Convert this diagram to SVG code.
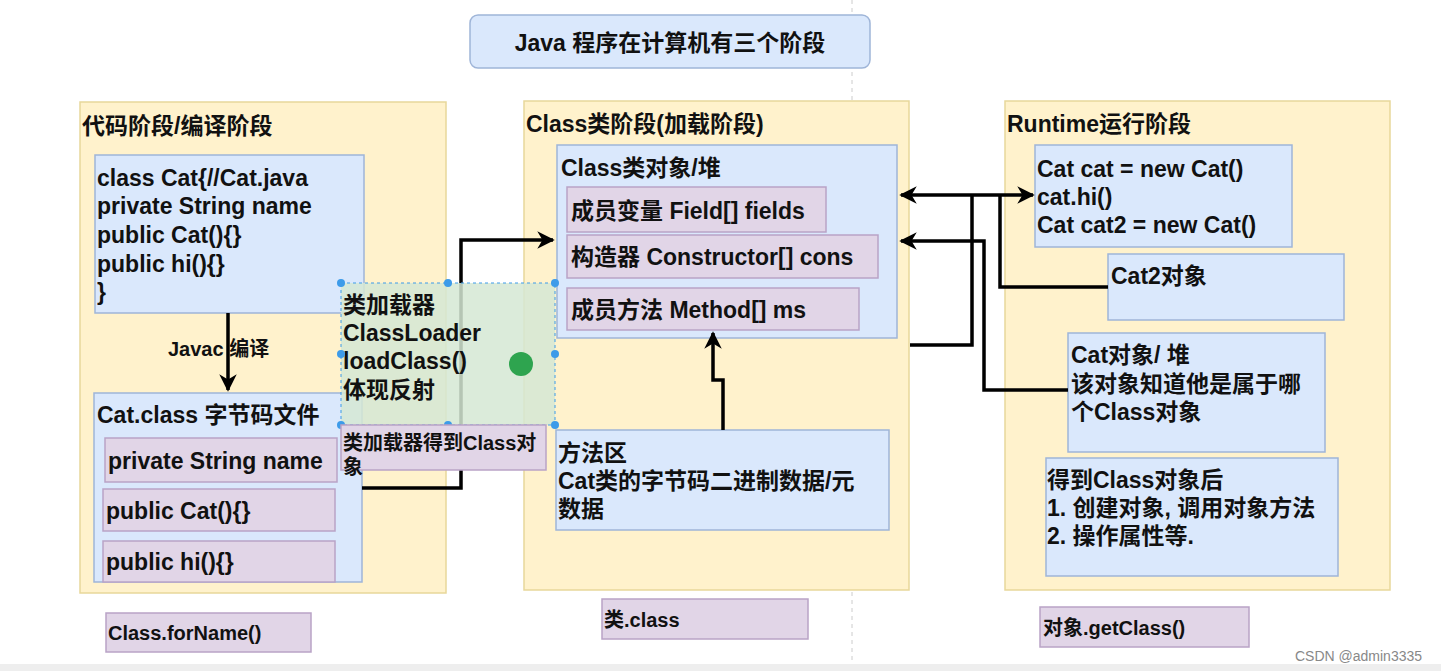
<svg xmlns="http://www.w3.org/2000/svg" width="1441" height="671" viewBox="0 0 1441 671">
<style>
text{font-family:"Liberation Sans","Noto Sans CJK SC",sans-serif;font-weight:bold;font-size:23px;fill:#111}
.sm{font-size:20px}
.panel{fill:#fff2cc;stroke:#e8d79a;stroke-width:1.5}
.blue{fill:#dae8fc;stroke:#9fb5d8;stroke-width:1.5}
.pur{fill:#e1d5e7;stroke:#b9a3c6;stroke-width:1.5}
.ln{fill:none;stroke:#000;stroke-width:3.5}
</style>
<defs>
<marker id="ah" viewBox="0 0 10 10" refX="9" refY="5" markerWidth="5" markerHeight="5" orient="auto-start-reverse"><path d="M0,0 L10,5 L0,10 L3,5z" fill="#000"/></marker>
</defs>
<rect width="1441" height="671" fill="#fff"/>
<line x1="852" y1="0" x2="852" y2="671" stroke="#ccc" stroke-dasharray="4 4"/>
<rect x="0" y="664" width="1441" height="7" fill="#eee"/>
<g id="title"><rect x="470" y="15" width="400" height="53" rx="8" class="blue"/><text x="670" y="51" text-anchor="middle">Java 程序在计算机有三个阶段</text></g>
<g id="panel1"><rect x="80" y="102" width="366" height="491" class="panel"/><text x="82" y="134">代码阶段/编译阶段</text></g>
<g id="panel2"><rect x="524" y="101" width="385" height="489" class="panel"/><text x="526" y="132">Class类阶段(加载阶段)</text></g>
<g id="panel3"><rect x="1005" y="101" width="385" height="489" class="panel"/><text x="1007" y="132">Runtime运行阶段</text></g>
<g id="code"><rect x="95" y="155" width="269" height="158" class="blue"/>
<text x="97" y="186">class Cat{//Cat.java</text><text x="97" y="214">private String name</text><text x="97" y="243">public Cat(){}</text><text x="97" y="272">public hi(){}</text><text x="97" y="300">}</text></g>
<g id="catclass"><rect x="94" y="393" width="268" height="189" class="blue"/><text x="97" y="423">Cat.class 字节码文件</text></g>
<g id="f1"><rect x="105" y="438" width="232" height="44" class="pur"/><text x="108" y="469">private String name</text></g>
<g id="f2"><rect x="103" y="489" width="232" height="42" class="pur"/><text x="106" y="519">public Cat(){}</text></g>
<g id="f3"><rect x="103" y="541" width="232" height="41" class="pur"/><text x="106" y="570">public hi(){}</text></g>
<g id="forname"><rect x="106" y="613" width="205" height="39" class="pur"/><text x="108" y="640" class="sm">Class.forName()</text></g>
<g id="classobj"><rect x="557" y="145" width="340" height="193" class="blue"/><text x="561" y="176">Class类对象/堆</text></g>
<g id="m1"><rect x="567" y="187" width="259" height="45" class="pur"/><text x="571" y="219">成员变量 Field[] fields</text></g>
<g id="m2"><rect x="567" y="235" width="311" height="43" class="pur"/><text x="571" y="265">构造器 Constructor[] cons</text></g>
<g id="m3"><rect x="567" y="288" width="292" height="42" class="pur"/><text x="571" y="318">成员方法 Method[] ms</text></g>
<g id="method"><rect x="556" y="430" width="333" height="100" class="blue"/><text x="558" y="461">方法区</text><text x="558" y="489">Cat类的字节码二进制数据/元</text><text x="558" y="517">数据</text></g>
<g id="dotclass"><rect x="602" y="599" width="206" height="40" class="pur"/><text x="604" y="627" class="sm">类.class</text></g>
<g id="run"><rect x="1035" y="145" width="257" height="102" class="blue"/><text x="1037" y="177">Cat cat = new Cat()</text><text x="1037" y="205">cat.hi()</text><text x="1037" y="233">Cat cat2 = new Cat()</text></g>
<g id="cat2"><rect x="1108" y="254" width="236" height="66" class="blue"/><text x="1111" y="284">Cat2对象</text></g>
<g id="catobj"><rect x="1068" y="333" width="257" height="119" class="blue"/><text x="1071" y="363">Cat对象/ 堆</text><text x="1071" y="392">该对象知道他是属于哪</text><text x="1071" y="420">个Class对象</text></g>
<g id="after"><rect x="1046" y="458" width="292" height="118" class="blue"/><text x="1047" y="488">得到Class对象后</text><text x="1047" y="516">1. 创建对象, 调用对象方法</text><text x="1047" y="544">2. 操作属性等.</text></g>
<g id="getclass"><rect x="1040" y="607" width="209" height="40" class="pur"/><text x="1043" y="635" class="sm">对象.getClass()</text></g>
<g id="connectors">
<path class="ln" d="M228,313 V390" marker-end="url(#ah)"/>
<path class="ln" d="M362,488 H461 V240 H553" marker-end="url(#ah)"/>
<path class="ln" d="M723,430 V380 H713 V333" marker-end="url(#ah)"/>
<path class="ln" d="M901,195 H1033" marker-start="url(#ah)" marker-end="url(#ah)"/>
<path class="ln" d="M910,345 H972 V195"/>
<path class="ln" d="M1000,195 V287 H1108"/>
<path class="ln" d="M901,241 H984 V390 H1068" marker-start="url(#ah)"/>
</g>
<g id="javac"><text x="168" y="356" class="sm">Javac 编译</text></g>
<g id="loader"><rect x="341" y="283" width="214" height="142" fill="#d5e8d4" fill-opacity="0.85" stroke="#3d9be9" stroke-dasharray="3 3"/>
<text x="343" y="313">类加载器</text><text x="343" y="341">ClassLoader</text><text x="343" y="369">loadClass()</text><text x="343" y="398">体现反射</text>
<circle cx="521" cy="364" r="12" fill="#2ea44f"/>
<g fill="#3d9be9"><circle cx="341" cy="283" r="4"/><circle cx="448" cy="283" r="4"/><circle cx="555" cy="283" r="4"/><circle cx="341" cy="354" r="4"/><circle cx="555" cy="354" r="4"/><circle cx="341" cy="425" r="4"/><circle cx="448" cy="425" r="4"/><circle cx="555" cy="425" r="4"/></g></g>
<g id="loadres"><rect x="341" y="425" width="205" height="45" class="pur"/><text x="343" y="450" class="sm">类加载器得到Class对</text><text x="343" y="474" class="sm">象</text></g>
<text x="1295" y="661" style="font-size:14px;font-weight:normal;fill:#888">CSDN @admin3335</text>
</svg>
